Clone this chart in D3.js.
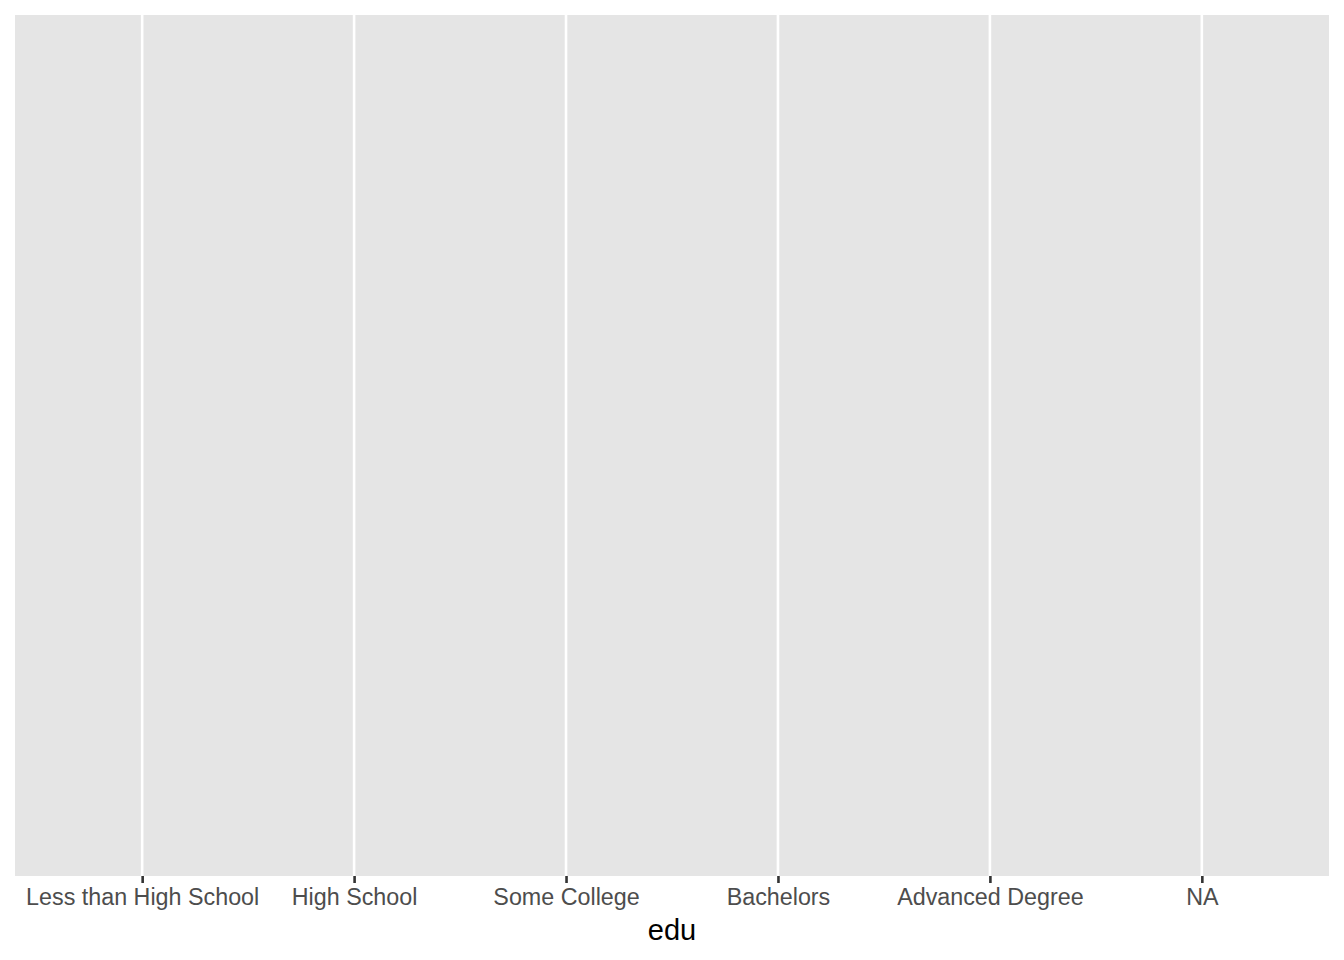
<!DOCTYPE html>
<html lang="en">
<head>
<meta charset="UTF-8">
<title>edu</title>
<script src="https://d3js.org/d3.v7.min.js"></script>
<style>
  body { margin: 0; background: #fff; }
  text { font-family: "Liberation Sans", Arial, Helvetica, sans-serif; }
</style>
</head>
<body>
<div id="chart"></div>
<script>
const categories = ['Less than High School', 'High School', 'Some College', 'Bachelors', 'Advanced Degree', 'NA'];
const xTitle = 'edu';

const W = 1344, H = 960;
const panel = { left: 15, right: 1329, top: 15, bottom: 876 };

const svg = d3.select('#chart').append('svg')
    .attr('width', W)
    .attr('height', H);

// discrete scale with ggplot's 0.6 unit expansion on each side
const unit = (panel.right - panel.left) / (categories.length - 1 + 1.2);
const x = d3.scalePoint()
    .domain(categories)
    .range([panel.left + 0.6 * unit, panel.right - 0.6 * unit]);

svg.append('rect')
    .attr('x', panel.left)
    .attr('y', panel.top)
    .attr('width', panel.right - panel.left)
    .attr('height', panel.bottom - panel.top)
    .attr('fill', '#e5e5e5');

svg.append('g')
    .selectAll('line')
    .data(categories)
    .join('line')
    .attr('x1', d => x(d))
    .attr('x2', d => x(d))
    .attr('y1', panel.top)
    .attr('y2', panel.bottom)
    .attr('stroke', '#fff')
    .attr('stroke-width', 2.6);

const axis = svg.append('g')
    .attr('transform', `translate(0, ${panel.bottom})`)
    .call(d3.axisBottom(x).tickSize(7).tickPadding(6));

axis.select('.domain').remove();
axis.selectAll('.tick line')
    .attr('stroke', '#333')
    .attr('stroke-width', 2.6);
axis.selectAll('.tick text')
    .attr('fill', '#4d4d4d')
    .attr('font-size', 23.3)
    .attr('dy', null)
    .attr('y', 29);

svg.append('text')
    .attr('x', (panel.left + panel.right) / 2)
    .attr('y', 940)
    .attr('text-anchor', 'middle')
    .attr('font-size', 29)
    .attr('fill', '#000')
    .text(xTitle);
</script>
</body>
</html>
